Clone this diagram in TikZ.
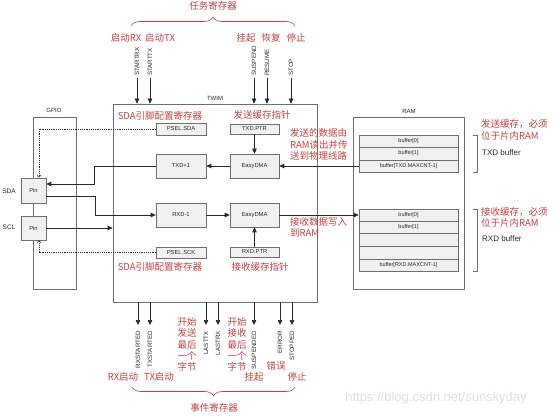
\documentclass[tikz,border=0pt]{standalone}
\usepackage{fontspec}
\setmainfont{Liberation Sans}
\newfontfamily\cjk{Noto Sans CJK SC}
\usetikzlibrary{arrows.meta,decorations.pathreplacing}
\definecolor{redtxt}{RGB}{196,64,64}
\definecolor{boxfill}{RGB}{241,241,241}
\definecolor{boxline}{RGB}{110,110,110}
\definecolor{ink}{RGB}{40,40,40}
\tikzset{
  cont/.style={draw=boxline, line width=0.7pt, inner sep=0pt},
  unit/.style={draw=boxline, fill=boxfill, line width=0.6pt, inner sep=0pt, text=ink,
    font=\fontsize{5.8}{6.5}\selectfont},
  lbl/.style={text=ink, inner sep=0pt, font=\fontsize{6}{7}\selectfont},
  vlbl/.style={text=ink, inner sep=0pt, rotate=90, font=\fontsize{6.2}{7}\selectfont},
  rtxt/.style={text=redtxt, inner sep=0pt, align=left, font=\cjk\fontsize{9.5}{11.3}\selectfont},
  arr/.style={draw=ink, line width=0.7pt, -{Triangle[length=5pt,width=4.5pt]}},
  darr/.style={draw=ink, line width=0.5pt, dashed, dash pattern=on 1.2pt off 1pt, -{Straight Barb[length=2pt,width=4pt]}},
  brc/.style={draw=redtxt, line width=0.6pt, decorate, decoration={brace,amplitude=9pt}},
}
\begin{document}
\begin{tikzpicture}[x=1pt,y=-1pt]
\useasboundingbox (0,0) rectangle (556,417);

% containers
\node[cont, minimum width=43pt, minimum height=172pt] (gpio) at (54.5,203) {};
\node[cont, minimum width=204pt, minimum height=198pt] (twim) at (215,203) {};
\node[cont, minimum width=111pt, minimum height=172pt] (ram) at (408.5,203) {};
\node[lbl] (gpiol) at (54,110) {GPIO};
\node[lbl] (twiml) at (215,98) {TWIM};
\node[lbl] (raml) at (409,111) {RAM};
\node[lbl, font=\fontsize{6.5}{7}\selectfont] (sdal) at (9,191) {SDA};
\node[lbl, font=\fontsize{6.5}{7}\selectfont] (scll) at (9,227) {SCL};

% pins
\node[unit, minimum width=25pt, minimum height=25pt] (pinsda) at (33.5,190.5) {Pin};
\node[unit, minimum width=25pt, minimum height=24pt] (pinscl) at (33.5,228) {Pin};

% TWIM internals
\node[unit, minimum width=50pt, minimum height=12pt] (psda) at (181,129) {PSEL.SDA};
\node[unit, minimum width=50pt, minimum height=24pt] (txdp) at (181,166) {TXD+1};
\node[unit, minimum width=50pt, minimum height=24pt] (rxdm) at (181,215) {RXD-1};
\node[unit, minimum width=50pt, minimum height=11pt] (psck) at (181,252.5) {PSEL.SCK};
\node[unit, minimum width=49pt, minimum height=10pt] (txdptr) at (254.5,129) {TXD.PTR};
\node[unit, minimum width=49pt, minimum height=24pt] (dma1) at (254.5,166) {EasyDMA};
\node[unit, minimum width=49pt, minimum height=24pt] (dma2) at (254.5,215) {EasyDMA};
\node[unit, minimum width=49pt, minimum height=10pt] (rxdptr) at (254.5,252) {RXD.PTR};

\node[rtxt] (t1) at (160,116) {SDA引脚配置寄存器};
\node[rtxt] (t2) at (160,267) {SDA引脚配置寄存器};
\node[rtxt] (t3) at (262,115) {发送缓存指针};
\node[rtxt] (t4) at (260,267) {接收缓存指针};
\node[rtxt, anchor=north west] (t5) at (290,128.5) {发送的数据由\\RAM读出并传\\送到物理线路};
\node[rtxt, anchor=north west] (t6) at (290,217) {接收数据写入\\到RAM};

% RAM buffers
\tikzset{buf/.style={unit, minimum width=99pt, font=\fontsize{5.5}{6}\selectfont}}
\node[buf, minimum height=12pt] (tb0) at (408.5,141) {buffer[0]};
\node[buf, minimum height=13pt] (tb1) at (408.5,153.5) {buffer[1]};
\node[buf, minimum height=12pt] (tb2) at (408.5,166) {buffer[TXD.MAXCNT-1]};
\node[buf, minimum height=12pt] (rb0) at (408.5,215) {buffer[0]};
\node[buf, minimum height=12pt] (rb1) at (408.5,227) {buffer[1]};
\node[buf, minimum height=13pt] (rb2) at (408.5,239.5) {};
\node[buf, minimum height=13pt] (rb3) at (408.5,252.5) {};
\node[buf, minimum height=12pt] (rb4) at (408.5,265) {buffer[RXD.MAXCNT-1]};

\draw[boxline, line width=0.6pt] (473,135) -- (477,135) -- (477,172) -- (473,172);
\draw[boxline, line width=0.6pt] (473,209) -- (477,209) -- (477,271) -- (473,271);
\node[rtxt, anchor=north west] (t7) at (481,119.5) {发送缓存，必须\\位于片内RAM};
\node[lbl, anchor=west, font=\fontsize{8}{9}\selectfont] (tbl) at (482,153) {TXD buffer};
\node[rtxt, anchor=north west] (t8) at (481,207.5) {接收缓存，必须\\位于片内RAM};
\node[lbl, anchor=west, font=\fontsize{8}{9}\selectfont] (rbl) at (482,239) {RXD buffer};

% data connectors
\draw[arr] (txdptr) -- (dma1);
\draw[arr] (dma1) -- (txdp);
\draw[arr] (tb2.west) -- (dma1.east);
\draw[arr] (rxdm) -- (dma2);
\draw[arr] (rxdptr) -- (dma2);
\draw[arr] (dma2.east) -- (rb0.west);
\draw[arr] (txdp.west) -- ++(-61,0) |- ([yshift=6.5pt]pinsda.east);
\draw[arr] ([yshift=-5.5pt]pinsda.east) -- ++(49,0) |- (rxdm.west);
\draw[arr] (pinscl.east) -- (twim.west |- pinscl.east);
\draw[darr] (psda.west) -| ([xshift=5.5pt]pinsda.north);
\draw[darr] (psck.west) -| ([xshift=5.5pt]pinscl.south);

% tasks
\foreach \n/\x in {STARTRX/137, STARTTX/150, SUSPEND/254, RESUME/267, STOP/291}{
  \coordinate (c\n) at (\x,78);
  \node[vlbl, anchor=west] (l\n) at (\x,76) {\n};
  \draw[arr] (c\n) -- (c\n |- twim.north);
}
\node[rtxt] (r1) at (126,38) {启动RX};
\node[rtxt] (r2) at (160,38) {启动TX};
\node[rtxt] (r3) at (246,38) {挂起};
\node[rtxt] (r4) at (271,38) {恢复};
\node[rtxt] (r5) at (296,38) {停止};
\draw[brc] (131,26) -- (295,26);
\node[rtxt] (tasks) at (213,6) {任务寄存器};

% events
\foreach \n/\x in {RXSTARTED/138, TXSTARTED/150, LASTTX/206, LASTRX/218, SUSPENDED/254, ERROR/280, STOPPED/292}{
  \coordinate (e\n) at (\x,325);
  \node[vlbl, anchor=east] (m\n) at (\x,331) {\n};
  \draw[arr] (twim.south -| e\n) -- (e\n);
}
\node[rtxt, anchor=north, align=center] (s1) at (187,317.5) {开始\\发送\\最后\\一个\\字节};
\node[rtxt, anchor=north, align=center] (s2) at (237,317.5) {开始\\接收\\最后\\一个\\字节};
\node[rtxt] (b1) at (123,377) {RX启动};
\node[rtxt] (b2) at (159,377) {TX启动};
\node[rtxt] (b3) at (254,377) {挂起};
\node[rtxt] (b4) at (276,366) {错误};
\node[rtxt] (b5) at (297,377) {停止};
\draw[brc] (295,387) -- (132,387);
\node[rtxt] (events) at (214,408) {事件寄存器};

\node[text=black!12, inner sep=0pt, font=\fontsize{13}{14}\selectfont] (wm) at (436,398) {https://blog.csdn.net/sunskyday};
\end{tikzpicture}
\end{document}
